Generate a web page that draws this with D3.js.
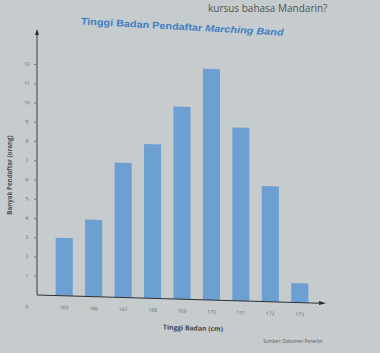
<!DOCTYPE html>
<html>
<head>
<meta charset="utf-8">
<script src="https://cdn.jsdelivr.net/npm/d3@7"></script>
<style>
  body { margin: 0; background: #c6cbce; }
  svg { display: block; }
</style>
</head>
<body>
<div id="chart"></div>
<script>
const heights = ["165", "166", "167", "168", "169", "170", "171", "172", "173"];
const counts = [3, 4, 7, 8, 10, 12, 9, 6, 1];
const yTicks = [0, 1, 2, 3, 4, 5, 6, 7, 8, 9, 10, 11, 12];

const width = 380, height = 353;
const ox = 37, oy = 295; // corner of the axes

const svg = d3.select("#chart").append("svg")
    .attr("width", width)
    .attr("height", height);

svg.append("rect")
    .attr("width", width).attr("height", height)
    .attr("fill", "#c6cbce");

// question text cut off at the top of the photo
svg.append("text")
    .attr("x", 208).attr("y", 12)
    .style("font", "10px 'Open Sans', sans-serif")
    .attr("fill", "#4f5356")
    .text("kursus bahasa Mandarin?");

svg.append("text")
    .attr("transform", "translate(182,30) rotate(3.2)")
    .attr("text-anchor", "middle")
    .style("font", "bold 9.5px 'Liberation Sans', sans-serif")
    .attr("fill", "#3f7fc2")
    .attr("textLength", 203)
    .attr("lengthAdjust", "spacingAndGlyphs")
    .html("Tinggi Badan Pendaftar <tspan font-style='italic'>Marching Band</tspan>");

// the photo is a little skewed, so the chart is drawn in a skewed frame
const g = svg.append("g")
    .attr("transform", `translate(${ox},${oy}) skewY(1.65)`);

const x = d3.scaleBand()
    .domain(heights)
    .range([12.5, 277.5])
    .paddingInner(0.42)
    .paddingOuter(0.21);

const y = d3.scaleLinear()
    .domain([0, 12])
    .range([0, -231]);

g.selectAll("rect.bar")
    .data(counts)
    .join("rect")
    .attr("class", "bar")
    .attr("x", (d, i) => x(heights[i]))
    .attr("width", x.bandwidth())
    .attr("y", d => y(d))
    .attr("height", d => -y(d))
    .attr("fill", "#6c9fd2");

// y axis
g.append("line")
    .attr("x1", 0).attr("x2", 0)
    .attr("y1", 0).attr("y2", -262)
    .attr("stroke", "#3a3d40").attr("stroke-width", 1);
g.append("path")
    .attr("d", "M0,-266 L-2,-260 L2,-260 Z")
    .attr("fill", "#2a2c2e");

const yAxis = g.append("g")
    .call(d3.axisLeft(y).tickValues(yTicks).tickSize(3).tickPadding(5));
yAxis.select(".domain").remove();
yAxis.selectAll(".tick line").attr("stroke", "#7a7e82");
yAxis.selectAll(".tick text")
    .attr("fill", "#5d6165")
    .style("font", "5px 'Open Sans', sans-serif")
    .attr("text-anchor", "middle")
    .attr("x", -10)
    .attr("dy", d => d === 0 ? "2.6em" : "0.32em");
yAxis.selectAll(".tick").filter(d => d === 0).select("line").remove();

// x axis
g.append("line")
    .attr("x1", 0).attr("x2", 284)
    .attr("y1", 0).attr("y2", 0)
    .attr("stroke", "#2e3134").attr("stroke-width", 1);
g.append("path")
    .attr("d", "M289,0 L282,-2 L282,2 Z")
    .attr("fill", "#2a2c2e");

const xAxis = g.append("g")
    .call(d3.axisBottom(x).tickSize(0).tickPadding(10));
xAxis.select(".domain").remove();
xAxis.selectAll(".tick text")
    .attr("fill", "#5d6165")
    .style("font", "5px 'Open Sans', sans-serif");

g.append("text")
    .attr("x", 156).attr("y", 31)
    .attr("text-anchor", "middle")
    .style("font", "bold 6.8px 'Open Sans', sans-serif")
    .attr("fill", "#46494c")
    .text("Tinggi Badan (cm)");

svg.append("text")
    .attr("transform", "translate(12,175) rotate(-90)")
    .attr("text-anchor", "middle")
    .style("font", "bold 6.2px 'Open Sans', sans-serif")
    .attr("fill", "#505356")
    .text("Banyak Pendaftar (orang)");

svg.append("text")
    .attr("x", 293).attr("y", 343)
    .attr("text-anchor", "middle")
    .style("font", "4.6px 'Open Sans', sans-serif")
    .attr("fill", "#55595c")
    .text("Sumber: Dokumen Penerbit");
</script>
</body>
</html>
